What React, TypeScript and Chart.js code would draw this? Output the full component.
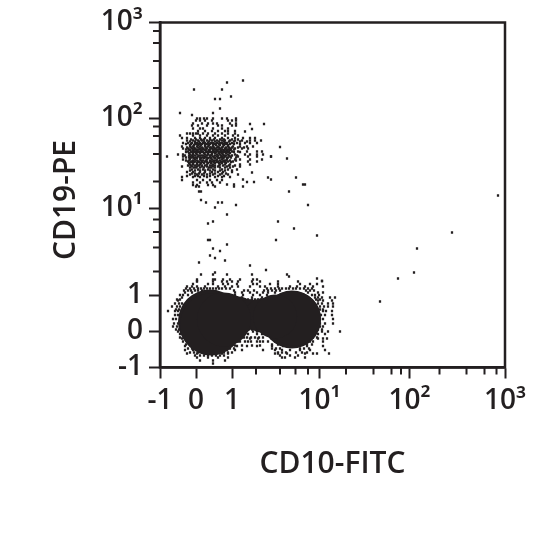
import React, { useEffect, useRef } from "react";
import { Chart, registerables } from "chart.js";

Chart.register(...registerables);

// Axes are in display channels: 0 = lower-left corner of the plot, 345 = upper-right.
const majorChannels = [0, 36, 72, 159.5, 249.5, 345];
const majorLabels = ["-1", "0", "1", "10¹", "10²", "10³"];
const minorChannels = [96, 120, 135.5, 148, 186, 213.5, 231.5, 241, 279.5, 306.5, 324.5, 336.5];
const xTitle = "CD10-FITC";
const yTitle = "CD19-PE";

// Dense populations (overlapping events)
const coreX = [50, 49, 51, 132, 130, 134, 78, 90, 102, 115, 64];
const coreY = [46, 47, 43, 48, 48, 49, 52, 53, 52, 51, 48];
const coreR = [32, 30, 31, 29, 28, 27, 19, 15, 17, 22, 27];

// Rare events: [CD10 channel, CD19 channel]
const rareEvents: [number, number][] = [
  [338, 172], [292, 135], [257, 119], [254, 95], [238, 89], [220, 66], [162, 86.5],
  [39, 176], [129, 176], [41, 167.5], [46, 165], [58, 165], [62, 165], [55, 160], [76, 162.5], [148, 162.5],
  [67, 153], [48, 144], [53, 146], [118, 146], [134, 139], [157, 132], [48, 127.5], [50, 127.5], [116, 127.5],
  [67, 123], [53, 119], [60, 116.5], [50, 112], [55, 109.5], [65, 107], [39, 105], [90, 102], [106, 97.5],
  [41, 93], [55, 95], [53, 93], [67, 93], [92, 93], [127, 93], [129, 91], [37, 86.5], [157, 89], [162, 86.5],
  [83, 287], [67, 285], [34, 278], [62, 278], [71, 271], [55, 268.5], [60, 268.5], [60, 259], [20, 254.5],
  [32, 252.5], [53, 254.5], [7, 211], [90, 243.5], [104, 243.5], [92, 238.5], [85, 236], [101, 227], [120, 220.5],
  [111, 211], [127, 209], [92, 195], [108, 190], [111, 188], [136, 190], [143, 183], [145, 183], [83, 188],
  [87, 185.5], [94, 185.5], [83, 181], [74, 183], [74, 181], [67, 183], [55, 181], [39, 181], [36, 181], [41, 176],
];

// CD19-positive cluster, one row per CD19 channel
const clusterRows: [number, number[]][] = [
  [249, [37, 40, 44, 47, 53, 62, 67, 76]],
  [247, [36, 40, 45, 52, 68, 72, 76]],
  [244, [33, 42, 48, 53, 57, 70, 76]],
  [242, [32, 38, 47, 58, 62, 72, 76]],
  [239, [33, 40, 43, 53, 62, 68]],
  [236.5, [38, 45, 52, 58, 65, 68, 75]],
  [234, [27, 30, 33, 36, 38, 43, 48, 55, 62, 68, 75]],
  [232, [20, 33, 40, 47, 53, 58, 65, 73, 78]],
  [229.5, [22, 27, 35, 40, 45, 50, 55, 62, 68, 75, 83, 90, 95]],
  [228, [31, 36, 41, 44, 50, 54, 60, 64, 72, 78]],
  [227, [27, 33, 38, 42, 47, 52, 57, 62, 65, 70, 75, 82, 90, 95]],
  [226, [30, 35, 39, 44, 49, 55, 59, 64, 69, 74, 80, 87]],
  [224.5, [23, 28, 32, 35, 37, 40, 43, 45, 48, 51, 53, 57, 60, 62, 65, 67, 72, 77, 85, 90, 97]],
  [223.5, [26, 31, 36, 39, 42, 47, 50, 55, 59, 63, 66, 70, 74, 80]],
  [222.5, [30, 34, 38, 41, 45, 49, 53, 56, 60, 64, 68]],
  [221, [22, 30, 33, 37, 40, 45, 48, 53, 58, 63, 68, 73, 80, 87, 93]],
  [220, [27, 31, 34, 38, 42, 46, 50, 51, 54, 57, 59, 62, 66, 69, 72, 78, 84]],
  [219, [23, 28, 32, 35, 40, 43, 47, 52, 55, 60, 65, 70, 75, 82, 88]],
  [218, [26, 29, 34, 36, 39, 42, 44, 46, 50, 54, 56, 59, 62, 66, 68, 71, 74]],
  [217.5, [30, 33, 37, 41, 45, 49, 53, 57, 61, 64, 67, 70]],
  [216, [28, 32, 35, 38, 42, 47, 50, 55, 58, 62, 65, 68, 72, 78, 87, 97, 102]],
  [215.5, [26, 31, 34, 37, 39, 41, 43, 46, 49, 51, 53, 56, 60, 63, 64, 67, 69, 74, 80]],
  [214.5, [29, 33, 36, 40, 44, 48, 52, 55, 59, 62, 66, 70]],
  [213, [18, 23, 30, 33, 37, 45, 48, 52, 57, 60, 63, 68, 75, 85, 90, 97, 103]],
  [212, [25, 29, 32, 35, 39, 41, 43, 47, 50, 51, 55, 58, 61, 64, 66, 69, 72, 77]],
  [211, [23, 30, 33, 38, 45, 53, 57, 62, 65, 70, 78, 88, 97, 111]],
  [210, [26, 29, 32, 36, 40, 43, 46, 50, 54, 58, 61, 64, 68, 71, 76]],
  [209.5, [30, 34, 37, 41, 44, 48, 51, 55, 59, 63, 67]],
  [208, [23, 30, 35, 40, 47, 52, 57, 62, 67, 75, 80, 90, 102]],
  [207, [26, 29, 33, 37, 41, 43, 46, 50, 54, 56, 60, 64, 66, 70, 76]],
  [206, [28, 32, 35, 38, 45, 52, 58, 63, 68, 73, 88, 97]],
  [205.5, [31, 34, 39, 42, 47, 50, 54, 57, 61, 65, 71]],
  [204.5, [29, 33, 37, 41, 44, 48, 51, 55, 59, 62, 66]],
  [203, [30, 33, 37, 40, 47, 53, 60, 65, 70, 80, 90]],
  [202, [28, 31, 35, 39, 42, 45, 50, 52, 55, 59, 63, 69, 75]],
  [201, [22, 32, 37, 42, 47, 53, 58, 67, 73, 80]],
  [200, [30, 34, 36, 40, 44, 49, 51, 55, 60, 65, 70]],
  [198, [32, 38, 43, 48, 53, 62, 68, 77]],
  [197, [30, 35, 40, 45, 50, 55, 60, 65, 72]],
  [195.5, [27, 33, 40, 45, 52, 58, 63, 72]],
  [194, [32, 35, 39, 44, 50, 55, 62, 66]],
  [193, [30, 37, 42, 47, 53, 60, 68, 78]],
  [191.5, [27, 35, 38, 44, 50, 58, 64]],
  [190.5, [22, 33, 40, 47, 55, 62, 70]],
  [187.5, [22, 37, 43, 50, 57, 62]],
  [185, [33, 40, 47, 52, 60]],
  [182.5, [33, 37, 48, 53]],
];

// Edge of the CD19-negative populations, one row per CD19 channel
const edgeRows: [number, number[]][] = [
  [88, [37, 53, 55, 63, 70, 80, 93, 97]],
  [86, [37, 53, 62, 67, 72, 78, 92, 100, 118, 138]],
  [83.5, [33, 48, 53, 63, 68, 77, 93, 97, 110, 118, 140, 150, 157]],
  [81, [27, 32, 37, 45, 58, 65, 72, 78, 90, 100, 105, 118, 130, 137, 145, 153, 163]],
  [79, [26, 30, 34, 38, 41, 44, 47, 50, 53, 56, 59, 62, 66, 70, 107, 111, 115, 119, 122, 126, 129, 133, 136, 140, 144, 148, 152]],
  [77, [24, 28, 31, 35, 38, 42, 74, 84, 88, 94, 104, 108, 112, 116, 120, 146, 150, 154]],
  [75, [25, 32, 75, 82, 90, 97, 103, 108, 115, 128, 148, 158, 163]],
  [72.5, [20, 23, 28, 75, 83, 93, 100, 107, 152, 155, 159]],
  [70, [22, 77, 82, 92, 102, 155, 158, 162, 170, 175]],
  [68, [17, 20, 78, 82, 85, 88, 92, 95, 98, 101, 104, 156, 160]],
  [67, [18, 75, 90, 95, 105, 158, 163, 172]],
  [64, [15, 19, 22, 78, 83, 86, 87, 89, 92, 95, 98, 100, 103, 107, 158, 162, 168, 173]],
  [61, [12, 17, 20, 76, 80, 84, 88, 92, 96, 100, 104, 108, 160, 164, 168, 173]],
  [58, [16, 19, 160, 163]],
  [56.5, [8, 15, 18, 163, 166, 172]],
  [52.5, [15, 18, 161, 165, 172]],
  [48.5, [13, 16, 20, 160, 163, 173]],
  [44, [14, 18, 160, 165, 173]],
  [41, [13, 17, 20, 90, 100, 160, 163]],
  [38, [16, 19, 85, 92, 98, 158, 162]],
  [36, [18, 21, 80, 85, 93, 97, 162, 168, 180]],
  [33.5, [20, 23, 80, 88, 97, 102, 108, 155, 158, 165]],
  [30, [20, 24, 77, 81, 84, 87, 91, 95, 99, 103, 153, 157]],
  [29, [22, 27, 80, 90, 98, 145, 150, 158, 163, 167]],
  [26, [23, 27, 78, 80, 85, 88, 91, 97, 100, 103, 108, 115, 145, 150, 153, 163]],
  [23, [26, 30, 73, 112, 118, 143, 147, 152]],
  [22, [75, 82, 92, 100]],
  [21.5, [25, 32, 77, 87, 97, 112, 123, 133, 147, 163]],
  [19, [28, 32, 35, 70, 74, 112, 116, 120, 140, 144, 149]],
  [17.5, [25, 33, 38, 67, 75, 82, 103, 115, 122, 130, 140, 150, 165]],
  [15, [30, 34, 38, 42, 64, 68, 72, 118, 122, 126, 136, 142, 147]],
  [14, [27, 37, 45, 62, 68, 115, 118, 127, 145, 153, 157, 169]],
  [12, [35, 40, 44, 48, 52, 56, 60, 64, 120, 130, 138]],
  [10, [37, 48, 58, 68, 122, 125, 135, 145]],
  [7, [40, 53, 65]],
  [4, [53]],
];

const INK = "#231f20";
const FONT = "'Open Sans', sans-serif";

const expand = (rows: [number, number[]][]) =>
  rows.flatMap(([y, xs]) => xs.map((x) => ({ x, y })));

const framePlugin = {
  id: "frameAndMinorTicks",
  afterDatasetsDraw(chart: any) {
    const { ctx, chartArea: a, scales } = chart;
    ctx.save();
    ctx.strokeStyle = INK;
    ctx.lineWidth = 2.5;
    ctx.strokeRect(a.left, a.top, a.right - a.left, a.bottom - a.top);
    ctx.lineWidth = 2;
    ctx.beginPath();
    for (const v of minorChannels) {
      const px = scales.x.getPixelForValue(v);
      ctx.moveTo(px, a.bottom);
      ctx.lineTo(px, a.bottom + 7);
      const py = scales.y.getPixelForValue(v);
      ctx.moveTo(a.left, py);
      ctx.lineTo(a.left - 7, py);
    }
    ctx.stroke();
    ctx.fillStyle = INK;
    ctx.font = `600 30px ${FONT}`;
    ctx.textAlign = "center";
    ctx.textBaseline = "middle";
    ctx.translate(66, 200);
    ctx.rotate(-Math.PI / 2);
    ctx.fillText(yTitle, 0, 0);
    ctx.restore();
  },
};

const clearPad = (s: any) => {
  s.paddingTop = 0;
  s.paddingBottom = 0;
  s.paddingLeft = 0;
  s.paddingRight = 0;
};

const axis = (title: string, fit: (s: any) => void, tickPad: number, showTitle: boolean) => ({
  type: "linear" as const,
  min: 0,
  max: 345,
  afterBuildTicks: (s: any) => {
    s.ticks = majorChannels.map((value) => ({ value }));
  },
  afterFit: (s: any) => {
    fit(s);
    clearPad(s);
  },
  border: { color: INK, width: 2.5 },
  grid: { drawOnChartArea: false, drawTicks: true, tickLength: 11, tickWidth: 2, tickColor: INK },
  ticks: {
    autoSkip: false,
    maxRotation: 0,
    padding: tickPad,
    color: INK,
    font: { family: FONT, size: 28, weight: 600 },
    callback: (v: any) => majorLabels[majorChannels.indexOf(Number(v))] ?? "",
  },
  title: {
    display: showTitle,
    text: title,
    color: INK,
    font: { family: FONT, size: 30, weight: 600, lineHeight: 1.2 },
    padding: { top: 58, bottom: 58 },
  },
});

export default function App() {
  const ref = useRef<HTMLCanvasElement>(null);
  useEffect(() => {
    const rect = { pointStyle: "rect", pointRadius: 1.6, pointBorderWidth: 0, backgroundColor: INK, showLine: false };
    const chart = new Chart(ref.current!, {
      type: "scatter",
      data: {
        datasets: [
          {
            label: "Dense populations",
            data: coreX.map((x, i) => ({ x, y: coreY[i] })),
            pointRadius: coreR,
            pointBorderWidth: 0,
            backgroundColor: INK,
          },
          { label: "Rare events", data: rareEvents.map(([x, y]) => ({ x, y })), ...rect },
          { label: "CD19+ cluster", data: expand(clusterRows), ...rect },
          { label: "Population edge", data: expand(edgeRows), ...rect },
        ],
      },
      options: {
        animation: false,
        responsive: false,
        devicePixelRatio: 1,
        layout: { autoPadding: false, padding: { top: 22.5, right: 35, left: 0, bottom: 0 } },
        plugins: { legend: { display: false }, tooltip: { enabled: false } },
        scales: {
          x: axis(xTitle, (s) => { s.height = 172.5; }, 6, true),
          y: axis(yTitle, (s) => { s.width = 160; }, 6, false),
        },
      } as any,
      plugins: [framePlugin],
    });
    return () => chart.destroy();
  }, []);
  return (
    <div style={{ position: "fixed", left: 0, top: 0, width: 540, height: 540, background: "#fff" }}>
      <canvas ref={ref} width={540} height={540} style={{ display: "block" }} />
    </div>
  );
}
